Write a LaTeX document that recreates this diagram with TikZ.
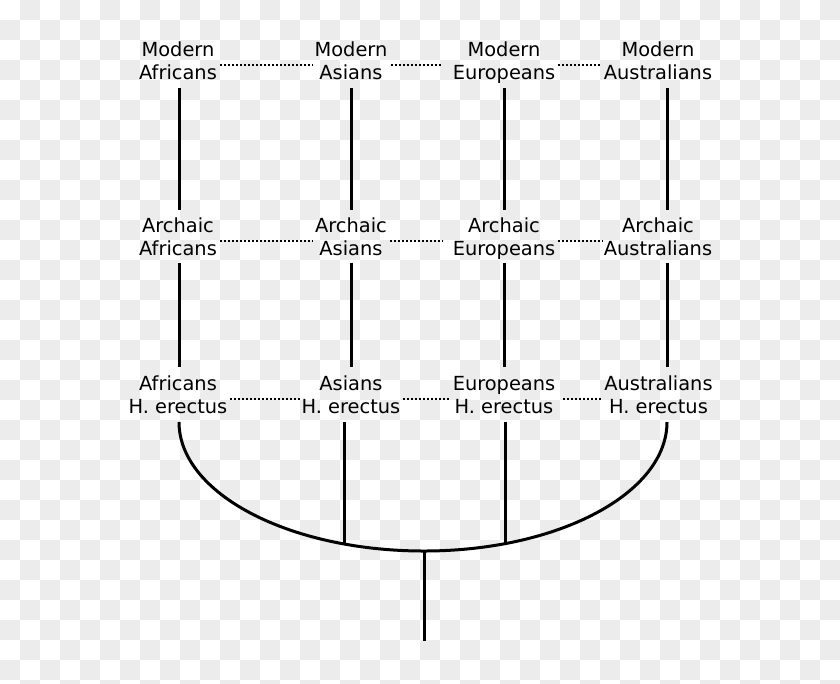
\documentclass[tikz,border=0pt]{standalone}
\usepackage{fontspec}
\setmainfont{DejaVu Sans}
\definecolor{checker}{HTML}{ECECEC}
\begin{document}
\begin{tikzpicture}[x=1pt,y=-1pt,
  lab/.style={align=center,inner sep=0pt,font=\fontsize{19.4}{23}\selectfont},
  solidline/.style={line width=3pt,black},
  dotline/.style={line width=1.5pt,black,dash pattern=on 2pt off 2pt}]
\useasboundingbox (0,0) rectangle (840,683);
\begin{scope}
\clip (0,0) rectangle (840,683);
\fill[white] (0,0) rectangle (840,683);
\foreach \i in {0,...,41}{
  \foreach \j in {0,...,34}{
    \pgfmathtruncatemacro\k{mod(\i+\j,2)}
    \ifnum\k=1 \fill[checker] (\i*20,\j*20) rectangle ++(20,20);\fi
  }
}
\end{scope}
% row 1
\node[lab] (maf) at (178,63.6) {\strut Modern\\\strut Africans};
\node[lab] (mas) at (351,63.6) {\strut Modern\\\strut Asians};
\node[lab] (meu) at (504,63.6) {\strut Modern\\\strut Europeans};
\node[lab] (mau) at (658,63.6) {\strut Modern\\\strut Australians};
% row 2
\node[lab] (aaf) at (178,239.4) {\strut Archaic\\\strut Africans};
\node[lab] (aas) at (351,239.4) {\strut Archaic\\\strut Asians};
\node[lab] (aeu) at (504,239.4) {\strut Archaic\\\strut Europeans};
\node[lab] (aau) at (658,239.4) {\strut Archaic\\\strut Australians};
% row 3
\node[lab] (haf) at (178,397.6) {\strut Africans\\\strut H. erectus};
\node[lab] (has) at (351,397.6) {\strut Asians\\\strut H. erectus};
\node[lab] (heu) at (504,397.6) {\strut Europeans\\\strut H. erectus};
\node[lab] (hau) at (658.5,397.6) {\strut Australians\\\strut H. erectus};
% dotted links
\draw[dotline,shorten <=3pt,shorten >=2pt] ([yshift=-1.6]maf.east) -- ([yshift=-1.6]mas.west);
\draw[dotline,shorten <=3pt,shorten >=10pt] ([yshift=-1.6]mas.east) -- ([yshift=-1.6]meu.west);
\draw[dotline,shorten <=3pt,shorten >=3pt] ([yshift=-1.6]meu.east) -- ([yshift=-1.6]mau.west);
\draw[dotline,shorten <=3pt,shorten >=2pt] ([yshift=-1.4]aaf.east) -- ([yshift=-1.4]aas.west);
\draw[dotline,shorten <=3pt,shorten >=10pt] ([yshift=-1.4]aas.east) -- ([yshift=-1.4]aeu.west);
\draw[dotline,shorten <=3pt,shorten >=1pt] ([yshift=-1.4]aeu.east) -- ([yshift=-1.4]aau.west);
\draw[dotline,shorten <=2pt,shorten >=1pt] ([yshift=-1.6]haf.east) -- ([yshift=-1.6]has.west);
\draw[dotline,shorten <=2pt,shorten >=3pt] ([yshift=-1.6]has.east) -- ([yshift=-1.6]heu.west);
\draw[dotline,shorten <=8pt,shorten >=2pt] ([yshift=-1.6]heu.east) -- ([yshift=-1.6]hau.west);
% vertical lines
\foreach \a/\b/\s/\t in {maf/aaf/1/1,mas/aas/0/0,meu/aeu/0/0,mau/aau/9/9}{
  \draw[solidline,shorten <=1.5pt,shorten >=6.4pt] ([xshift=\s]\a.south) -- ([xshift=\t]\b.north);
}
\foreach \a/\b/\s/\t in {aaf/haf/1/1,aas/has/0/0,aeu/heu/0/0,aau/hau/9/8.5}{
  \draw[solidline,shorten >=7.6pt] ([xshift=\s]\a.south) -- ([xshift=\t]\b.north);
}
% bottom tree
\coordinate (cl) at (179,422);
\coordinate (root) at (424,551);
\coordinate (rootend) at (424,641);
\coordinate (jas) at (344,545);
\coordinate (jeu) at (505,544.5);
\draw[solidline] (cl) arc[start angle=180,end angle=90,x radius=245,y radius=129]
  arc[start angle=90,end angle=0,x radius=243,y radius=129];
\draw[solidline,shorten <=1.5pt] ([xshift=-7]has.south) -- (jas);
\draw[solidline,shorten <=1.5pt] ([xshift=1]heu.south) -- (jeu);
\draw[solidline] (root) -- (rootend);
\end{tikzpicture}
\end{document}
